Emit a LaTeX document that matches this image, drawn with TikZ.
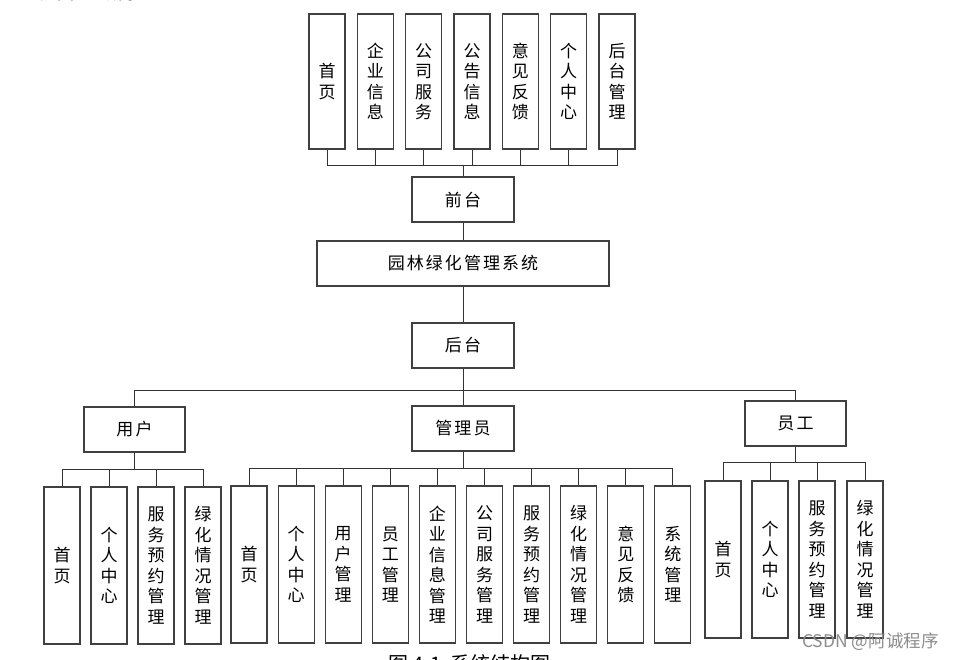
\documentclass[tikz,border=0pt]{standalone}
\usepackage{fontspec}
\setmainfont{Noto Sans CJK SC}
\newfontfamily\lsfont{Noto Sans CJK SC}[LetterSpace=12]
\begin{document}
\begin{tikzpicture}[x=1pt,y=-1pt,
  ln/.style={draw=black!80, line width=0.9pt},
  vb/.style={draw=black!75, line width=1.1pt, minimum width=36pt, minimum height=157pt, inner sep=0pt, align=center, font=\fontsize{17}{20.5}\selectfont},
  tb/.style={vb, minimum height=135pt},
  hb/.style={draw=black!75, line width=1.1pt, minimum height=45pt, minimum width=102pt, inner sep=0pt, font=\lsfont\fontsize{17}{20}\selectfont},
]
\useasboundingbox (0,0) rectangle (955,660);
% cut-off texts
\node[anchor=base west, inner sep=0pt, font=\fontsize{17}{20}\selectfont] (intro) at (40,0) {如图 4-1 所示。};
\node[anchor=base west, inner sep=0pt, font=\fontsize{20}{24}\selectfont] (caption) at (388,671) {图 4-1\ \ 系统结构图};
% top row
\node[tb] (t1) at (327,81.5) {首\\页};
\node[tb] (t2) at (375.3,81.5) {企\\业\\信\\息};
\node[tb] (t3) at (423.7,81.5) {公\\司\\服\\务};
\node[tb] (t4) at (472,81.5) {公\\告\\信\\息};
\node[tb] (t5) at (520.3,81.5) {意\\见\\反\\馈};
\node[tb] (t6) at (568.7,81.5) {个\\人\\中\\心};
\node[tb] (t7) at (617,81.5) {后\\台\\管\\理};
% middle
\node[hb] (front) at (463,199.5) {前台};
\node[hb, minimum width=292pt] (root) at (463,263.5) {园林绿化管理系统};
\node[hb] (back) at (463,345.5) {后台};
\node[hb, minimum width=101pt] (user) at (134.5,429.5) {用户};
\node[hb] (admin) at (463,428.5) {管理员};
\node[hb, minimum width=101pt] (staff) at (795.5,423.5) {员工};
% user children
\node[vb] (u1) at (62,565.5) {首\\页};
\node[vb] (u2) at (109,565.5) {个\\人\\中\\心};
\node[vb] (u3) at (156,565.5) {服\\务\\预\\约\\管\\理};
\node[vb] (u4) at (203,565.5) {绿\\化\\情\\况\\管\\理};
% admin children
\node[vb] (a1) at (249,564.5) {首\\页};
\node[vb] (a2) at (296.1,564.5) {个\\人\\中\\心};
\node[vb] (a3) at (343.2,564.5) {用\\户\\管\\理};
\node[vb] (a4) at (390.3,564.5) {员\\工\\管\\理};
\node[vb] (a5) at (437.4,564.5) {企\\业\\信\\息\\管\\理};
\node[vb] (a6) at (484.5,564.5) {公\\司\\服\\务\\管\\理};
\node[vb] (a7) at (531.6,564.5) {服\\务\\预\\约\\管\\理};
\node[vb] (a8) at (578.7,564.5) {绿\\化\\情\\况\\管\\理};
\node[vb] (a9) at (625.8,564.5) {意\\见\\反\\馈};
\node[vb] (a10) at (672.9,564.5) {系\\统\\管\\理};
% staff children
\node[vb] (s1) at (723,559.5) {首\\页};
\node[vb] (s2) at (770,559.5) {个\\人\\中\\心};
\node[vb] (s3) at (817,559.5) {服\\务\\预\\约\\管\\理};
\node[vb] (s4) at (865,559.5) {绿\\化\\情\\况\\管\\理};
% bus coordinates
\coordinate (busT) at (463,165);
\coordinate (busB) at (463,390);
\coordinate (busU) at (134.5,469);
\coordinate (busA) at (463,468);
\coordinate (busS) at (795.5,462);
% connectors
\foreach \n in {t1,t2,t3,t4,t5,t6,t7} \draw[ln] (\n.south) |- (busT);
\draw[ln] (busT) -- (front.north);
\draw[ln] (front) -- (root);
\draw[ln] (root) -- (back);
\draw[ln] (back.south) -- (busB);
\foreach \n in {user,admin,staff} \draw[ln] (\n.north) |- (busB);
\draw[ln] (user.south) -- (busU);
\foreach \n in {u1,u2,u3,u4} \draw[ln] (\n.north) |- (busU);
\draw[ln] (admin.south) -- (busA);
\foreach \n in {a1,a2,a3,a4,a5,a6,a7,a8,a9,a10} \draw[ln] (\n.north) |- (busA);
\draw[ln] (staff.south) -- (busS);
\foreach \n in {s1,s2,s3,s4} \draw[ln] (\n.north) |- (busS);
% watermark
\node[anchor=base west, inner sep=0pt, text=black!45, font=\fontsize{17.5}{20}\selectfont] (wm) at (802,647) {CSDN @阿诚程序};
\end{tikzpicture}
\end{document}
